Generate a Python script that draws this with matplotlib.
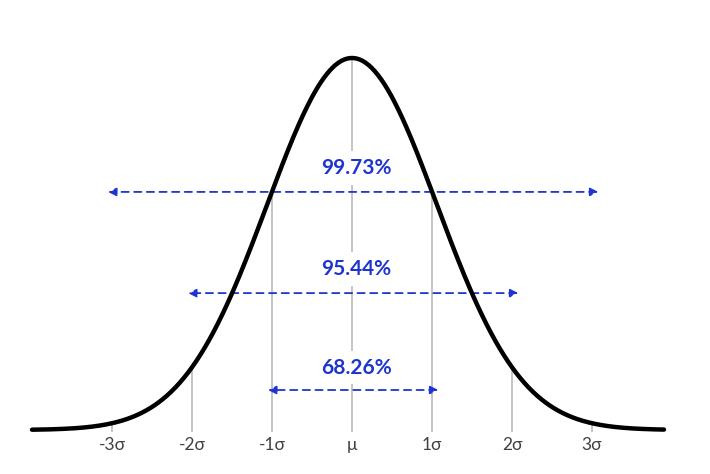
import numpy as np
import matplotlib.pyplot as plt

plt.rcParams['font.family'] = ['Lato', 'DejaVu Sans']

# sigma positions of the reference lines and their labels
sigma_pos = [-3, -2, -1, 0, 1, 2, 3]
sigma_labels = ['-3σ', '-2σ', '-1σ', 'μ', '1σ', '2σ', '3σ']

# coverage intervals (half-width in sigma) and their share
spans = [3, 2, 1]
shares = ['99.73%', '95.44%', '68.26%']

# bell curve drawn slightly wider than the tick spacing, as in the picture
curve_scale = 1.06
x_min, x_max = -4.0, 3.9

BLUE = '#1f35d0'
GREY = '#b4b4b4'


def bell(x):
    return np.exp(-0.5 * (np.asarray(x) / curve_scale) ** 2)


fig = plt.figure(figsize=(7.10, 4.74), dpi=100)
ax = fig.add_axes([0, 0, 1, 1])
ax.set_xlim(-352 / 80, (710 - 352) / 80)
ax.set_ylim(-(474 - 430) / 372, 430 / 372)
ax.axis('off')

# grey lines from baseline up to the curve
for p in sigma_pos:
    ax.vlines(p, -0.005, bell(p), color=GREY, lw=1.1, zorder=1)

# the curve
xs = np.linspace(x_min, x_max, 600)
ax.plot(xs, bell(xs), color='black', lw=3.2, solid_capstyle='round', zorder=3)

# tick labels
for p, lab in zip(sigma_pos, sigma_labels):
    ax.text(p, -0.04, lab, ha='center', va='center', fontsize=12.5, color='#404040')

# arrows + share labels
arrow_y = [0.640, 0.368, 0.1075]
label_y = [0.705, 0.433, 0.168]
for k, share, ay, ly in zip(spans, shares, arrow_y, label_y):
    ax.annotate('', xy=(-k - 0.05, ay), xytext=(k + 0.08, ay),
                arrowprops=dict(arrowstyle='<|-|>', color=BLUE, lw=1.3,
                                linestyle=(0, (4, 3)), mutation_scale=12,
                                shrinkA=0, shrinkB=0),
                zorder=2)
    ax.text(0.05, ly, share, ha='center', va='center', fontsize=15,
            fontweight='bold', color=BLUE, zorder=4,
            bbox=dict(facecolor='white', edgecolor='none', pad=5))

fig.savefig('out.png', dpi=100)
